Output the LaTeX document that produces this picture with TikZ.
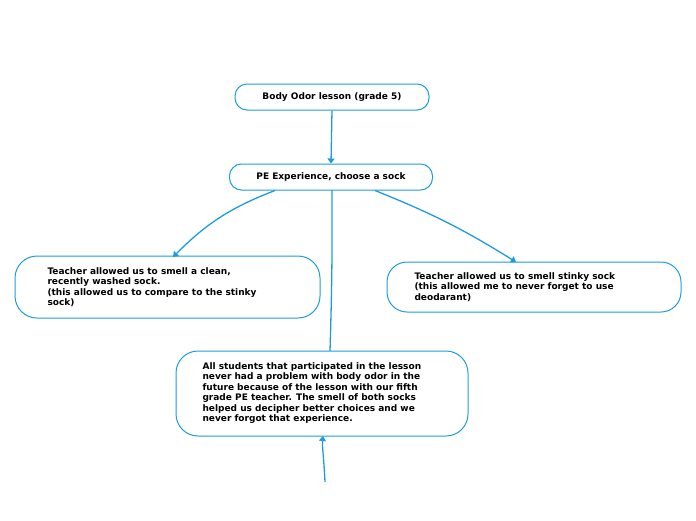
\documentclass[tikz,border=0pt]{standalone}
\usepackage{fontspec}
\setmainfont{DejaVu Sans}
\usetikzlibrary{arrows.meta}
\definecolor{ln}{HTML}{1E9BE0}
\begin{document}
\begin{tikzpicture}[x=1pt,y=-1pt,
  box/.style={draw=ln,line width=1pt,rounded corners=12pt,font=\bfseries\fontsize{9}{10.5}\selectfont,align=left,inner sep=0pt},
  conn/.style={draw=ln,line width=1.3pt,-{Triangle[width=7pt,length=5pt]}}]
\useasboundingbox (0,0) rectangle (696,520);
\node[box,minimum width=194pt,minimum height=26pt] (top) at (332,97) {Body Odor lesson (grade 5)};
\node[box,minimum width=203pt,minimum height=26pt] (pe) at (331,177) {PE Experience, choose a sock};
\node[box,minimum width=305pt,minimum height=62pt,rounded corners=22pt] (left) at (167.5,287) {};
\node[anchor=west,font=\bfseries\fontsize{9}{10.5}\selectfont,align=left] (lt) at (44,287) {Teacher allowed us to smell a clean,\\recently washed sock.\\(this allowed us to compare to the stinky\\sock)};
\node[box,minimum width=294pt,minimum height=50pt,rounded corners=20pt] (right) at (534,287) {};
\node[anchor=west,font=\bfseries\fontsize{9}{10.5}\selectfont,align=left] (rt) at (411,287) {Teacher allowed us to smell stinky sock\\(this allowed me to never forget to use\\deodarant)};
\node[box,minimum width=292pt,minimum height=85pt,rounded corners=22pt] (bot) at (322,393.5) {};
\node[anchor=west,font=\bfseries\fontsize{9}{10.5}\selectfont,align=left] (bt) at (199,393) {All students that participated in the lesson\\never had a problem with body odor in the\\future because of the lesson with our fifth\\grade PE teacher. The smell of both socks\\helped us decipher better choices and we\\never forgot that experience.};
\coordinate (free) at (325,482);
\draw[conn] (top.south) -- (pe.north);
\draw[conn] (pe.south west)++(46,0) to[bend right=12] (173,257);
\draw[conn] (pe.south east)++(-58,0) to[bend left=5] (516,262);
\draw[ln,line width=1.3pt] (332,190) to[bend left=1] (330,351);
\draw[conn] (free) .. controls (324,460) and (322,445) .. (323,436);
\end{tikzpicture}
\end{document}
